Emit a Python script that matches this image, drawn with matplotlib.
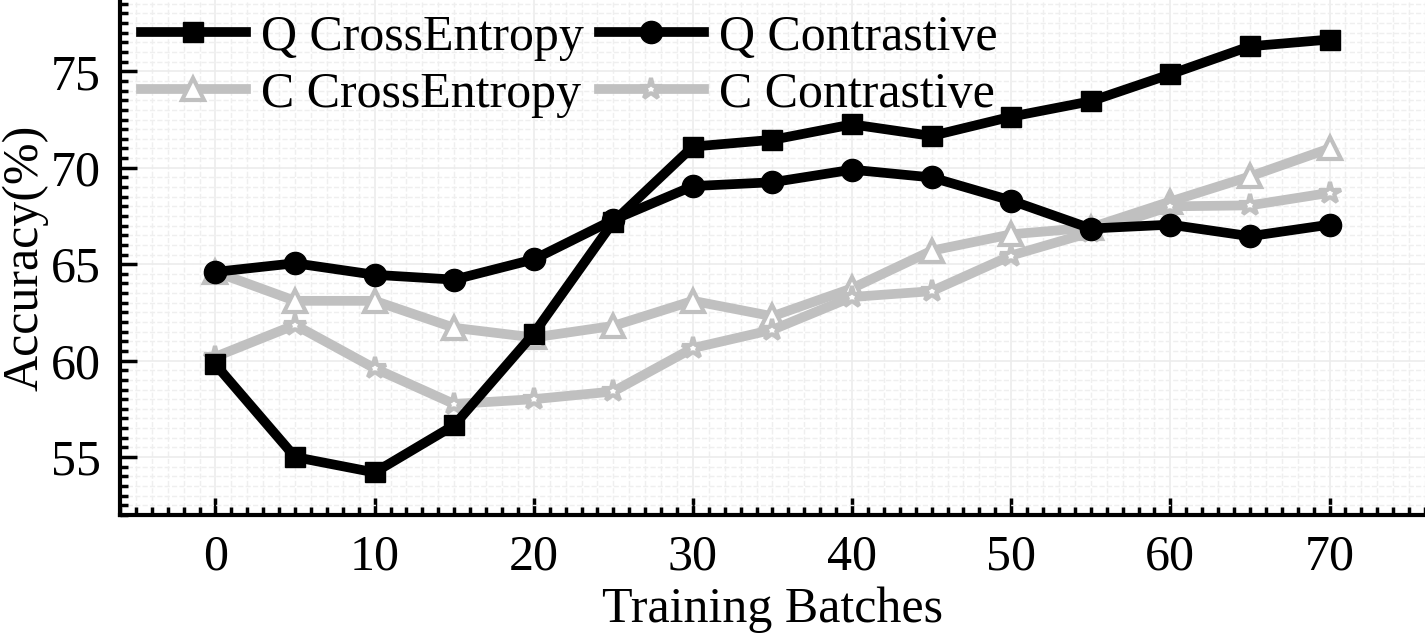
import matplotlib
matplotlib.use("Agg")
import matplotlib.pyplot as plt
from matplotlib.ticker import MultipleLocator

plt.rcParams["font.family"] = ["Liberation Serif", "DejaVu Serif"]

batches = [0, 5, 10, 15, 20, 25, 30, 35, 40, 45, 50, 55, 60, 65, 70]
q_ce = [59.8, 55.0, 54.2, 56.65, 61.4, 67.2, 71.1, 71.45, 72.25, 71.65, 72.65, 73.45, 74.85, 76.3, 76.65]
q_con = [64.6, 65.05, 64.45, 64.2, 65.25, 67.3, 69.05, 69.25, 69.9, 69.5, 68.3, 66.85, 67.05, 66.45, 67.05]
c_ce = [64.6, 63.1, 63.1, 61.7, 61.2, 61.8, 63.1, 62.3, 63.75, 65.7, 66.55, 66.9, 68.25, 69.55, 71.0]
c_con = [60.2, 61.85, 59.6, 57.75, 58.0, 58.4, 60.65, 61.6, 63.3, 63.6, 65.45, 66.65, 68.0, 68.05, 68.7]

gray = "#c0c0c0"
fs = 36

fig = plt.figure(figsize=(14.25, 6.42), dpi=100)
ax = fig.add_axes([0.0842, 0.198, 0.9158, 0.802])

ax.plot(batches, q_ce, color="black", lw=7, marker="s", ms=15, label="Q CrossEntropy", zorder=5)
ax.plot(batches, c_ce, color=gray, lw=7, marker="^", ms=16, mfc="white", mec=gray, mew=3,
        label="C CrossEntropy", zorder=3)
ax.plot(batches, q_con, color="black", lw=7, marker="o", ms=16, label="Q Contrastive", zorder=5)
ax.plot(batches, c_con, color=gray, lw=7, marker="*", ms=16, mfc="white", mec=gray, mew=3,
        label="C Contrastive", zorder=3)

ax.set_xlim(-6, 76)
ax.set_ylim(52, 78.7)
ax.xaxis.set_major_locator(MultipleLocator(10))
ax.xaxis.set_minor_locator(MultipleLocator(1))
ax.yaxis.set_major_locator(MultipleLocator(5))
ax.yaxis.set_minor_locator(MultipleLocator(0.5))

ax.grid(which="major", color="#ececec", lw=1.2, ls="-")
ax.grid(which="minor", color="#efefef", lw=1.0, ls="--")
ax.set_axisbelow(True)

ax.spines["top"].set_visible(False)
ax.spines["right"].set_visible(False)
ax.spines["left"].set_linewidth(3)
ax.spines["bottom"].set_linewidth(3)
ax.tick_params(which="major", direction="in", length=12, width=2.5, labelsize=fs, pad=14)
ax.tick_params(which="minor", direction="in", length=6, width=2.5)

ax.set_xlabel("Training Batches", fontsize=fs, labelpad=4)
ax.set_ylabel("Accuracy(%)", fontsize=fs)
ax.yaxis.set_label_coords(-0.055, 0.5)

ax.legend(ncol=2, loc="upper left", frameon=False, fontsize=fs, handlelength=2.1,
          borderaxespad=0.0, borderpad=0.1, labelspacing=0.21, columnspacing=0.3,
          handletextpad=0.3, bbox_to_anchor=(0.012, 0.982))

fig.savefig("out.png", dpi=100)
